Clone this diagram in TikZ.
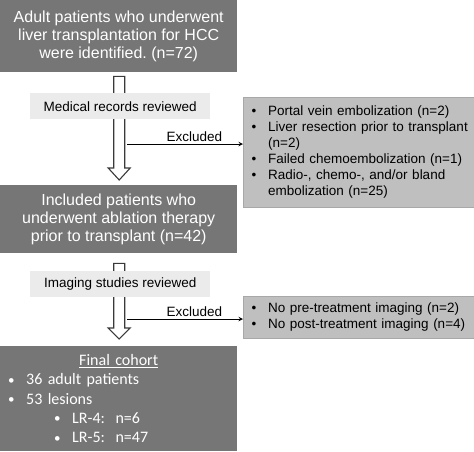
\documentclass[tikz,border=0pt]{standalone}
\usepackage{fontspec}
\setmainfont{Liberation Sans}
\newfontfamily\cohortfont{Carlito}
\frenchspacing
\usepackage{tikz}
\usetikzlibrary{positioning, arrows, calc, backgrounds}
\definecolor{stagegray}{HTML}{767676}
\definecolor{reviewgray}{HTML}{EBEBEB}
\definecolor{exclgray}{HTML}{BFBFBF}
\definecolor{exclborder}{HTML}{A8A8A8}
\definecolor{shaftgray}{HTML}{3A3A3A}
\tikzstyle{stage} = [rectangle, fill=stagegray, text=white, minimum width=237pt, minimum height=72pt, inner sep=0pt, align=center, font=\fontsize{16}{18}\selectfont]
\tikzstyle{review} = [rectangle, fill=reviewgray, minimum width=180pt, minimum height=26pt, inner sep=0pt, font=\fontsize{13.5}{16}\selectfont]
\tikzstyle{excl} = [rectangle, fill=exclgray, draw=exclborder, minimum width=231pt, text width=231pt, inner sep=0pt, align=left, font=\fontsize{13.5}{16}\selectfont]
\tikzstyle{hollow} = [draw=shaftgray, fill=white, line width=1.1pt, line join=miter]
\tikzstyle{arrow} = [line width=1pt,->,>=stealth]
\newcommand{\exitem}{\hspace*{8.5pt}\makebox[16.5pt][l]{\textbullet}}
\newcommand{\exgap}{\hspace*{25pt}}
\newcommand{\coitem}[1]{\hspace*{#1}\makebox[18pt][l]{\raisebox{0.6pt}{\fontsize{13}{13}\selectfont\textbullet}}}

\begin{document}
\begin{tikzpicture}[x=1pt, y=-1pt]
    \useasboundingbox (0,0) rectangle (474,451);
    \node (adult) [stage, anchor=north west] at (0,0)
      {Adult patients who underwent\\liver transplantation for HCC\\were identified. (n=72)};
    \node (medical) [review, anchor=north west] at (30,93) {Medical records reviewed};
    \node (excl1) [excl, anchor=north west, minimum height=110pt] at (243,97)
      {\exitem Portal vein embolization (n=2)\\
       \exitem Liver resection prior to transplant\\
       \exgap (n=2)\\
       \exitem Failed chemoembolization (n=1)\\
       \exitem Radio-, chemo-, and/or bland\\
       \exgap embolization (n=25)};
    \node (incl) [stage, anchor=north west, minimum height=68pt] at (0,185)
      {Included patients who\\underwent ablation therapy\\prior to transplant (n=42)};
    \node (imaging) [review, anchor=north west] at (30,271) {Imaging studies reviewed};
    \node (excl2) [excl, anchor=north west, minimum height=42pt] at (243,296)
      {\exitem No pre-treatment imaging (n=2)\\
       \exitem No post-treatment imaging (n=4)};
    \node (final) [stage, anchor=north west, minimum height=105pt, text width=237pt, align=left,
      font=\cohortfont\fontsize{16}{19.3}\selectfont] at (0,346)
      {\makebox[237pt]{\underline{Final cohort}}\\
       \coitem{8pt}36 adult patients\\
       \coitem{8pt}53 lesions\\
       \coitem{54pt}LR-4:~~n=6\\
       \coitem{54pt}LR-5:~~n=47};
    % open block arrows, kept behind the review labels
    \begin{scope}[on background layer]
      \draw [hollow] ($(adult.south)+(-5,4)$) -- ($(incl.north)+(-5,-17)$) -- ++(-5.5,0)
        -- ($(incl.north)+(0.5,-5)$) -- ($(incl.north)+(11.5,-17)$) -- ++(-5.5,0)
        -- ($(adult.south)+(6,4)$) -- cycle;
      \draw [hollow] ($(incl.south)+(-5,10)$) -- ($(final.north)+(-5,-18)$) -- ++(-5.5,0)
        -- ($(final.north)+(0.5,-7)$) -- ($(final.north)+(11.5,-18)$) -- ++(-5.5,0)
        -- ($(incl.south)+(6,10)$) -- cycle;
    \end{scope}
    \coordinate (cut1) at (127,144);
    \coordinate (cut2) at (127,319);
    \draw [arrow] (cut1) -- node[above, pos=0.58, inner sep=1.5pt, font=\fontsize{13.5}{16}\selectfont] {Excluded} (cut1 -| excl1.west);
    \draw [arrow] (cut2) -- node[above, pos=0.58, inner sep=1.5pt, font=\fontsize{13.5}{16}\selectfont] {Excluded} (cut2 -| excl2.west);
\end{tikzpicture}
\end{document}
